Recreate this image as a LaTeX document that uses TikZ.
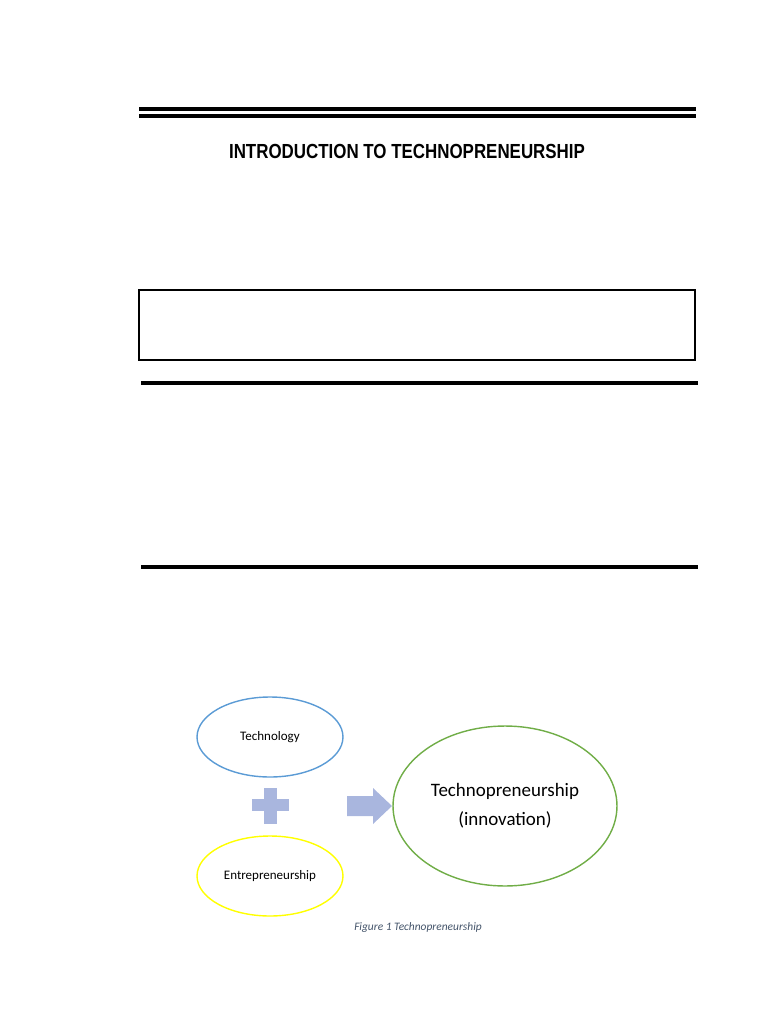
\documentclass[tikz,border=0pt]{standalone}
\usepackage{fontspec}
\setmainfont{Carlito}
\newfontfamily\titlefont{Liberation Sans}
\usetikzlibrary{shapes.geometric,shapes.arrows}
\definecolor{techblue}{HTML}{5B9BD5}
\definecolor{entyellow}{HTML}{FFFF00}
\definecolor{innogreen}{HTML}{70AD47}
\definecolor{plusblue}{HTML}{A9B6DE}
\definecolor{capgray}{HTML}{44546A}
\tikzset{
    oval/.style={ellipse, draw, thick, inner sep=0pt},
    small oval/.style={oval, minimum width=2.92cm, minimum height=1.6cm, font=\fontsize{7.4}{9}\selectfont},
    rule/.style={line width=2pt}
}

\begin{document}
\begin{tikzpicture}[x=0.02cm, y=-0.02cm]
    \useasboundingbox (0,0) rectangle (768,1024);
    \draw[rule] (139,109) -- (696,109);
    \draw[rule] (139,116) -- (696,116);
    \node[xscale=0.83, font=\titlefont\bfseries\fontsize{11.6}{13}\selectfont] (title) at (407,151) {INTRODUCTION TO TECHNOPRENEURSHIP};

    \draw[line width=0.6pt] (139,290) rectangle (695,360);
    \draw[rule] (141,383) -- (698,383);
    \draw[rule] (141,567) -- (698,567);

    \node[small oval, draw=techblue] (tech) at (270,737) {Technology};
    \node[small oval, draw=entyellow] (entre) at (270,876) {Entrepreneurship};
    \node[oval, draw=innogreen, minimum width=4.48cm, minimum height=3.2cm, align=center,
        font=\fontsize{10.8}{16.5}\selectfont] (techno) at (505,806)
        {Technopreneurship\\(innovation)};

    % plus sign
    \fill[plusblue] (252,799) rectangle (289,811);
    \fill[plusblue] (264,788) rectangle (277,824);
    % block arrow
    \fill[plusblue] (347,796) -- (373,796) -- (373,788) -- (392,806) -- (373,824) -- (373,816) -- (347,816) -- cycle;

    \node[text=capgray, font=\fontsize{6.5}{7}\selectfont\itshape] (caption) at (418,928) {Figure 1 Technopreneurship};
\end{tikzpicture}
\end{document}
